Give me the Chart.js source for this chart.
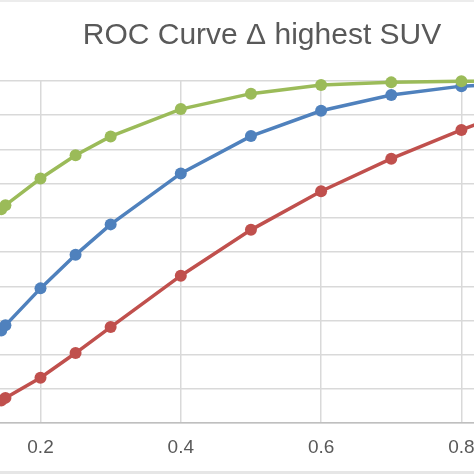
<!DOCTYPE html>
<html>
<head>
<meta charset="utf-8">
<script src="https://cdn.jsdelivr.net/npm/chart.js@4.4.1/dist/chart.umd.min.js"></script>
<style>
  html, body { margin: 0; padding: 0; background: #fff; }
  #wrap {
    position: relative; width: 474px; height: 474px; overflow: hidden;
    box-shadow: inset 0 2px 0 #ececec, inset 0 -3px 0 #e6e6e6;
  }
  #roc { position: absolute; left: -200px; top: 0; }
</style>
</head>
<body>
<div id="wrap"><canvas id="roc" width="924" height="474"></canvas></div>
<script>
const TITLE = 'ROC Curve \u0394 highest SUV';

// false positive rate (x) shared by all three curves
const fpr = [0, 0.05, 0.1, 0.144, 0.15, 0.2, 0.25, 0.3, 0.4, 0.5, 0.6, 0.7, 0.8, 0.9, 1.0];

// sensitivity (y) per curve
const greenTpr = [0, 0.38, 0.54, 0.625, 0.637, 0.715, 0.783, 0.838, 0.918, 0.963, 0.988, 0.996, 0.999, 1.0, 1.0];
const blueTpr  = [0, 0.08, 0.18, 0.271, 0.286, 0.394, 0.492, 0.581, 0.730, 0.839, 0.913, 0.959, 0.985, 0.995, 1.0];
const redTpr   = [0, 0.01, 0.03, 0.066, 0.074, 0.133, 0.205, 0.281, 0.431, 0.565, 0.678, 0.773, 0.857, 0.934, 1.0];

const xTicks = [0, 0.2, 0.4, 0.6, 0.8, 1];

const TEXT = '#595959';
const GRID = '#d9d9d9';
const FONT = '"Liberation Sans", Arial, sans-serif';

function series(label, ys, color) {
  return {
    label,
    data: fpr.map((x, i) => ({ x, y: ys[i] })),
    borderColor: color,
    backgroundColor: color,
    borderWidth: 3.5,
    pointRadius: 6,
    pointBorderWidth: 0,
    pointBackgroundColor: color,
    tension: 0,
    clip: false,
  };
}

new Chart(document.getElementById('roc').getContext('2d'), {
  type: 'line',
  data: {
    datasets: [
      series('Series 1', greenTpr, '#9bbb59'),
      series('Series 2', blueTpr,  '#4f81bd'),
      series('Series 3', redTpr,   '#c0504d'),
    ],
  },
  options: {
    responsive: false,
    animation: false,
    layout: { padding: { top: 0, bottom: 2, left: 0, right: 0 } },
    plugins: {
      legend: { display: false },
      tooltip: { enabled: false },
      title: {
        display: true,
        text: TITLE,
        color: TEXT,
        font: { family: FONT, size: 30, weight: 'normal' },
        padding: { top: 17.5, bottom: 27.5 },
      },
    },
    scales: {
      x: {
        type: 'linear',
        min: 0, max: 1,
        afterBuildTicks: s => { s.ticks = xTicks.map(value => ({ value })); },
        ticks: {
          color: TEXT, padding: 13,
          font: { family: FONT, size: 19 },
        },
        grid: { color: GRID, lineWidth: 1.5, drawTicks: false },
        border: { color: '#bfbfbf', width: 1.5 },
      },
      y: {
        min: 0, max: 1,
        ticks: { stepSize: 0.1, display: false },
        grid: { color: GRID, lineWidth: 1.5, drawTicks: false },
        border: { display: false },
        afterFit: s => { s.width = 100.2; },
      },
      yRight: {
        position: 'right',
        min: 0, max: 1,
        ticks: { display: false },
        grid: { display: false, drawTicks: false },
        border: { display: false },
        afterFit: s => { s.width = 122.3; },
      },
    },
  },
});
</script>
</body>
</html>
